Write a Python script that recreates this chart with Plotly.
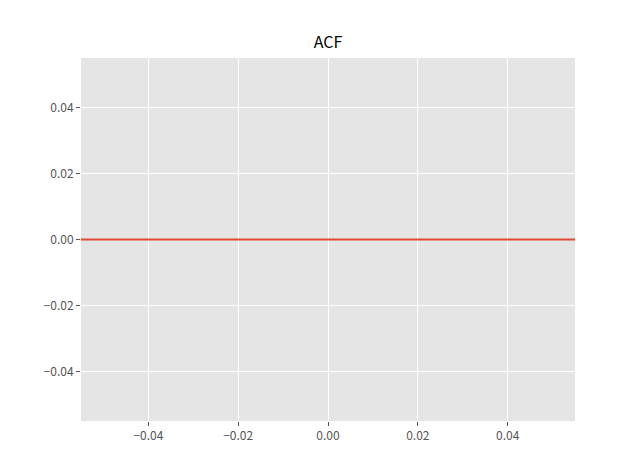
import plotly.graph_objects as go

# ACF output is empty: only the zero reference line is drawn
acf_lags = []
acf_values = []
zero_level = 0.0

x_range = [-0.055, 0.055]
y_range = [-0.055, 0.055]
tick_vals = [-0.04, -0.02, 0.0, 0.02, 0.04]

FONT = "Noto Sans CJK SC"

fig = go.Figure()
fig.add_trace(go.Scatter(x=acf_lags, y=acf_values, mode="lines",
                         line=dict(color="#E24A33"), showlegend=False))

fig.add_shape(type="line", xref="paper", x0=0, x1=1, yref="y",
              y0=zero_level, y1=zero_level,
              line=dict(color="#E24A33", width=2))

axis_style = dict(
    showgrid=True, gridcolor="white", gridwidth=1,
    zeroline=False, showline=False,
    ticks="outside", ticklen=4, tickwidth=1, tickcolor="#555555",
    tickfont=dict(family=FONT, size=12, color="#555555"),
    tickvals=tick_vals, tickformat=".2f",
)

fig.update_xaxes(range=x_range, **axis_style)
fig.update_yaxes(range=y_range, **axis_style)

# the page body adds an 8px offset, so margins are shifted to compensate
fig.update_layout(
    width=640, height=473,
    margin=dict(l=73, r=73, t=50, b=60),
    plot_bgcolor="#E5E5E5", paper_bgcolor="white",
    title=dict(text="ACF", x=0.5, xref="paper", xanchor="center",
               y=1 - 34 / 473, yanchor="middle",
               font=dict(family=FONT, size=16, color="black")),
    showlegend=False,
)

fig.write_html("out.html")
